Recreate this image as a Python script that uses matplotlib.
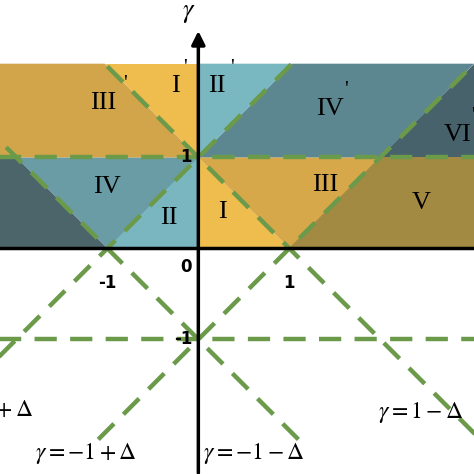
import matplotlib
matplotlib.use("Agg")
import matplotlib.pyplot as plt
from matplotlib.patches import Polygon
import numpy as np
plt.rcParams["mathtext.fontset"] = "stix"

L, R, T = -2.3, 3.2, 2.03
regions = {
    "I":   [(0,0),(1,0),(0,1)],
    "II":  [(-1,0),(0,0),(0,1)],
    "III": [(0,1),(2,1),(1,0)],
    "IV":  [(-2,1),(0,1),(-1,0)],
    "V":   [(1,0),(R,0),(R,1),(2,1)],
    "VI'": [(2,1),(R,1),(R,T),(T+1,T)],
    "IV'": [(0,1),(2,1),(T+1,T),(T-1,T)],
    "II'": [(0,1),(T-1,T),(0,T)],
    "I'":  [(0,1),(0,T),(1-T,T)],
    "III'":[(0,1),(1-T,T),(L,T),(L,1)],
    "left":[(L,0),(-1,0),(-2,1),(L,1)],
}
colors = {"I":"#efbd4e","II":"#79b6bf","III":"#d6a84a","IV":"#6a9ca6","V":"#a38a42",
          "VI'":"#47626a","IV'":"#5d8790","II'":"#7ab8c1","I'":"#efbd4e","III'":"#d2a54a","left":"#4b656b"}
label_pos = {"I":(0.27,0.4),"II":(-0.32,0.33),"III":(1.4,0.7),"IV":(-1.0,0.67),"V":(2.45,0.5),
             "VI'":(2.85,1.25),"IV'":(1.45,1.53),"II'":(0.2,1.78),"I'":(-0.25,1.78),"III'":(-1.05,1.6)}

fig = plt.figure(figsize=(4.74,4.74), dpi=100)
ax = fig.add_axes([0,0,1,1])
ax.set_xlim(-2.18,3.03); ax.set_ylim(-2.48,2.73); ax.axis("off")
for k,pts in regions.items():
    ax.add_patch(Polygon(pts, closed=True, facecolor=colors[k], edgecolor="none", zorder=1))
for k,(x,y) in label_pos.items():
    base = k.replace("'","")
    ax.text(x,y,base,fontsize=19,family="Liberation Serif",ha="center",va="center",zorder=5)
    if "'" in k:
        ax.text(x+0.07*len(base)+0.03,y+0.2,"'",fontsize=15,family="Liberation Serif",ha="center",va="center",zorder=5)

g = "#6b9a4b"
kw = dict(color=g, lw=3.2, dashes=(5,3), zorder=3)
ax.plot([-2.3,3.1],[1,1],**kw)
ax.plot([-2.3,3.1],[-1,-1],**kw)
ys = np.array([-2.1, T])
ax.plot(ys-1, ys, **kw)   # γ = 1 + Δ
ax.plot(1-ys, ys, **kw)   # γ = 1 − Δ
ax.plot(ys+1, ys, **kw)   # γ = −1 + Δ
ax.plot(-1-ys, ys, **kw)  # γ = −1 − Δ

ax.plot([-2.3,3.1],[0,0],color="k",lw=2.5,zorder=4)
ax.annotate("", xy=(0,2.42), xytext=(0,-2.5),
            arrowprops=dict(arrowstyle="-|>,head_width=0.4,head_length=0.8",color="k",lw=2.5),zorder=4)
ax.text(-0.11,2.6,r"$\gamma$",fontsize=19,ha="center",va="center")
bold = dict(fontsize=12,fontweight="bold",ha="center",va="center",zorder=5)
ax.text(-1.0,-0.38,"-1",**bold); ax.text(1.0,-0.38,"1",**bold)
ax.text(-0.14,-0.2,"0",**bold); ax.text(-0.14,1.0,"1",**bold); ax.text(-0.16,-1.0,"-1",**bold)
sf = dict(fontsize=17,va="center",zorder=5)
ax.text(-2.75,-1.78,r"$\gamma=1+\Delta$",**sf)
ax.text(-1.8,-2.26,r"$\gamma=-1+\Delta$",**sf)
ax.text(0.05,-2.26,r"$\gamma=-1-\Delta$",**sf)
ax.text(1.97,-1.8,r"$\gamma=1-\Delta$",**sf)
fig.savefig("out.png", dpi=100)
